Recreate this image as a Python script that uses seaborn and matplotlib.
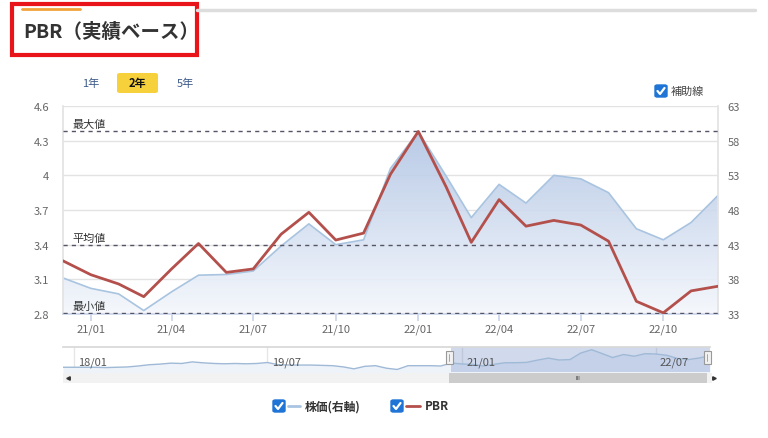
import matplotlib
matplotlib.use('Agg')
import matplotlib.pyplot as plt
import matplotlib.dates as mdates
from matplotlib.patches import Rectangle, FancyBboxPatch
from matplotlib.lines import Line2D
from matplotlib.colors import LinearSegmentedColormap
import seaborn as sns
import numpy as np
import pandas as pd

# monthly values, 2020-12 .. 2022-12
pbr = [3.26, 3.14, 3.06, 2.95, 3.19, 3.41, 3.16, 3.19, 3.49, 3.68, 3.44, 3.50,
       4.01, 4.38, 3.90, 3.42, 3.79, 3.56, 3.61, 3.57, 3.43, 2.91, 2.81, 3.00, 3.04]
stock = [38.2, 36.7, 35.9, 33.5, 36.2, 38.6, 38.7, 39.2, 42.8, 46.0, 43.0, 43.7,
         54.0, 59.3, 52.9, 46.9, 51.7, 49.0, 53.0, 52.5, 50.5, 45.3, 43.7, 46.2, 50.1]
# navigator history, 2017-12 .. 2020-11
nav_history = [31.5, 31.5, 31.5, 31.5, 31.0, 31.5, 32.0, 33.5, 35.5, 36.5, 38.0, 37.5,
               40.0, 38.5, 37.5, 37.0, 37.5, 37.0, 37.5, 39.0, 35.5, 35.0, 35.0, 35.0,
               34.5, 34.0, 32.0, 29.0, 33.0, 34.0, 30.0, 28.0, 34.0, 34.0, 34.0, 33.5]
main_start = '2020-12-01'
nav_start = '2017-12-01'
pbr_ticks = [2.8, 3.1, 3.4, 3.7, 4.0, 4.3, 4.6]
pbr_ticklabels = ['2.8', '3.1', '3.4', '3.7', '4', '4.3', '4.6']
stock_ticks = [33, 38, 43, 48, 53, 58, 63]
nav_ticks = ['2018-01-01', '2019-07-01', '2021-01-01', '2022-07-01']
ref_labels = ['最大値', '平均値', '最小値']
range_buttons = ['1年', '2年', '5年']
legend_labels = ['株価(右軸)', 'PBR']
title = 'PBR（実績ベース）'

sns.set_theme(style='white')
plt.rcParams['font.family'] = ['Noto Sans CJK JP', 'DejaVu Sans']

W, H = 768, 439
BLUE = '#a9c4e0'
RED = '#b4504c'
TXT = '#666666'

fig = plt.figure(figsize=(W / 100, H / 100), dpi=100)
fig.patch.set_facecolor('white')


def box(x0, y0, x1, y1):
    return [x0 / W, 1 - y1 / H, (x1 - x0) / W, (y1 - y0) / H]


def fx(x):
    return x / W


def fy(y):
    return 1 - y / H


def checkbox(x, y, s=12):
    fig.add_artist(FancyBboxPatch((fx(x), fy(y + s)), s / W, s / H,
                                  boxstyle='round,pad=0,rounding_size=0.003',
                                  transform=fig.transFigure, fc='#1f74d6', ec='#1f74d6'))
    fig.add_artist(Line2D([fx(x + 2.5), fx(x + 5), fx(x + 9.5)],
                          [fy(y + 6), fy(y + 9), fy(y + 3)],
                          transform=fig.transFigure, color='white', lw=1.6))


dates = pd.date_range(main_start, periods=len(pbr), freq='MS')
df = pd.DataFrame({'date': dates, 'pbr': pbr, 'stock': stock})

# ---- main chart: stock area on ax (right axis), PBR on twin (left axis)
ax = fig.add_axes(box(63, 107, 718, 315))
poly = ax.fill_between(df['date'], df['stock'], stock_ticks[0], facecolor='none', edgecolor='none')
cmap = LinearSegmentedColormap.from_list('g', ['#f4f7fc', '#b1c5e4'])
grad = np.linspace(0, 1, 256).reshape(-1, 1)
x0n, x1n = mdates.date2num(dates[0]), mdates.date2num(dates[-1])
im = ax.imshow(grad, extent=[x0n, x1n, stock_ticks[0], max(stock)], origin='lower',
               aspect='auto', cmap=cmap, alpha=0.9, zorder=1)
im.set_clip_path(poly.get_paths()[0], transform=ax.transData)
sns.lineplot(data=df, x='date', y='stock', ax=ax, color=BLUE, lw=1.2, zorder=2)
ax.set_xlim(dates[0], dates[-1])
ax.set_ylim(stock_ticks[0], stock_ticks[-1])
ax.set_yticks(stock_ticks)
ax.grid(axis='y', color='#e3e3e3', lw=1)
ax.set_axisbelow(True)

axp = ax.twinx()
sns.lineplot(data=df, x='date', y='pbr', ax=axp, color=RED, lw=2, zorder=5)
axp.set_ylim(pbr_ticks[0], pbr_ticks[-1])
axp.set_yticks(pbr_ticks)
axp.set_yticklabels(pbr_ticklabels)
ax.yaxis.tick_right()
axp.yaxis.tick_left()

ref_vals = [max(pbr), float(np.mean(pbr)), min(pbr)]
for lab, v in zip(ref_labels, ref_vals):
    axp.axhline(v, color='#555566', ls=(0, (3, 3)), lw=1, zorder=4)
    axp.annotate(lab, xy=(0.015, v), xycoords=('axes fraction', 'data'),
                 xytext=(0, 1.5), textcoords='offset points', va='bottom',
                 fontsize=8, color='#333333')

for a in (ax, axp):
    a.set_xlabel('')
    a.set_ylabel('')
    for s in a.spines.values():
        s.set_visible(False)
ax.spines['left'].set_visible(True)
ax.spines['right'].set_visible(True)
ax.spines['bottom'].set_visible(True)
for k in ('left', 'right'):
    ax.spines[k].set_color('#e3e3e3')
ax.spines['bottom'].set_color('#ccd6eb')

ax.xaxis.set_major_locator(mdates.MonthLocator(bymonth=[1, 4, 7, 10]))
ax.xaxis.set_major_formatter(mdates.DateFormatter('%y/%m'))
ax.tick_params(axis='x', length=5, color='#ccd6eb', labelsize=8, labelcolor=TXT, pad=2, bottom=True)
ax.tick_params(axis='y', length=0, labelsize=8, labelcolor=TXT, pad=7)
axp.tick_params(axis='y', length=0, labelsize=8, labelcolor=TXT, pad=10)

# ---- navigator
nav = fig.add_axes(box(63, 348, 710, 373))
nav_dates = pd.date_range(nav_start, periods=len(nav_history) + len(stock), freq='MS')
nav_vals = nav_history + stock
nav.fill_between(nav_dates, nav_vals, 20, color='#eef3fa', lw=0)
sns.lineplot(x=nav_dates, y=nav_vals, ax=nav, color='#9fb9d6', lw=1)
nav.axvspan(dates[0], dates[-1], color='#6685c2', alpha=0.3, lw=0)
nav.set_xlim(nav_dates[0], nav_dates[-1])
nav.set_ylim(24, 63.6)
for t in nav_ticks:
    td = pd.Timestamp(t)
    nav.axvline(td, color='#e6e6e6', lw=1, zorder=0)
    nav.annotate(td.strftime('%y/%m'), xy=(td, 0.42), xycoords=('data', 'axes fraction'),
                 xytext=(3, 0), textcoords='offset points', va='center', ha='left',
                 fontsize=8, color='#555555')
nav.set_xticks([])
nav.set_yticks([])
nav.set_xlabel('')
nav.set_ylabel('')
for k, s in nav.spines.items():
    s.set_visible(k == 'top')
nav.spines['top'].set_color('#d8d8d8')

# handles
for hx in (449, 707):
    fig.add_artist(Rectangle((fx(hx - 3.5), fy(365)), 7 / W, 13 / H, transform=fig.transFigure,
                             fc='#f2f2f2', ec='#999999', lw=0.8))
    fig.add_artist(Line2D([fx(hx), fx(hx)], [fy(362), fy(355)], transform=fig.transFigure,
                          color='#999999', lw=0.6))
# scrollbar
fig.add_artist(Rectangle((fx(63), fy(384)), (712 - 63) / W, 10 / H, transform=fig.transFigure,
                         fc='#f2f2f2', ec='none'))
fig.add_artist(Rectangle((fx(449), fy(384)), (707 - 449) / W, 10 / H, transform=fig.transFigure,
                         fc='#cccccc', ec='none'))
fig.text(fx(578), fy(379), 'III', fontsize=4, color='#333333', ha='center', va='center',
         family='DejaVu Sans')
fig.add_artist(Line2D([fx(68)], [fy(379)], transform=fig.transFigure, marker='<', ms=2.5,
                      color='#333333', ls='none'))
fig.add_artist(Line2D([fx(714)], [fy(379)], transform=fig.transFigure, marker='>', ms=2.5,
                      color='#333333', ls='none'))

# ---- legend
checkbox(273, 401)
fig.add_artist(Line2D([fx(288), fx(300)], [fy(407), fy(407)], transform=fig.transFigure,
                      color=BLUE, lw=2))
fig.text(fx(305), fy(407), legend_labels[0], fontsize=8.5, fontweight='bold', color='#333333',
         va='center')
checkbox(391, 401)
fig.add_artist(Line2D([fx(406), fx(420)], [fy(407), fy(407)], transform=fig.transFigure,
                      color=RED, lw=2))
fig.text(fx(425), fy(407), legend_labels[1], fontsize=8.5, fontweight='bold', color='#333333',
         va='center')

# 補助線 toggle
checkbox(655, 86)
fig.text(fx(671), fy(92), '補助線', fontsize=8, color='#444444', va='center')

# ---- range buttons
fig.add_artist(FancyBboxPatch((fx(117), fy(94)), 41 / W, 20 / H,
                              boxstyle='round,pad=0,rounding_size=0.004',
                              transform=fig.transFigure, fc='#f7d13c', ec='none'))
for bx, lab in zip((91, 137, 185), range_buttons):
    bold = lab == range_buttons[1]
    fig.text(fx(bx), fy(84), lab, fontsize=8, ha='center', va='center',
             fontweight='bold' if bold else 'normal',
             color='#111111' if bold else '#3b5a8a')

# ---- title block
fig.add_artist(Line2D([fx(197), fx(755)], [fy(11), fy(11)], transform=fig.transFigure,
                      color='#dddddd', lw=2.5))
fig.add_artist(Line2D([fx(22), fx(80)], [fy(10), fy(10)], transform=fig.transFigure,
                      color='#f2a23a', lw=2))
fig.add_artist(Rectangle((fx(12), fy(56)), (197 - 12) / W, (56 - 5) / H, transform=fig.transFigure,
                         fill=False, ec='#e8141a', lw=3))
fig.text(fx(23), fy(32), title, fontsize=14, fontweight='bold', color='#333333', va='center')

fig.savefig('out.png', dpi=100)
